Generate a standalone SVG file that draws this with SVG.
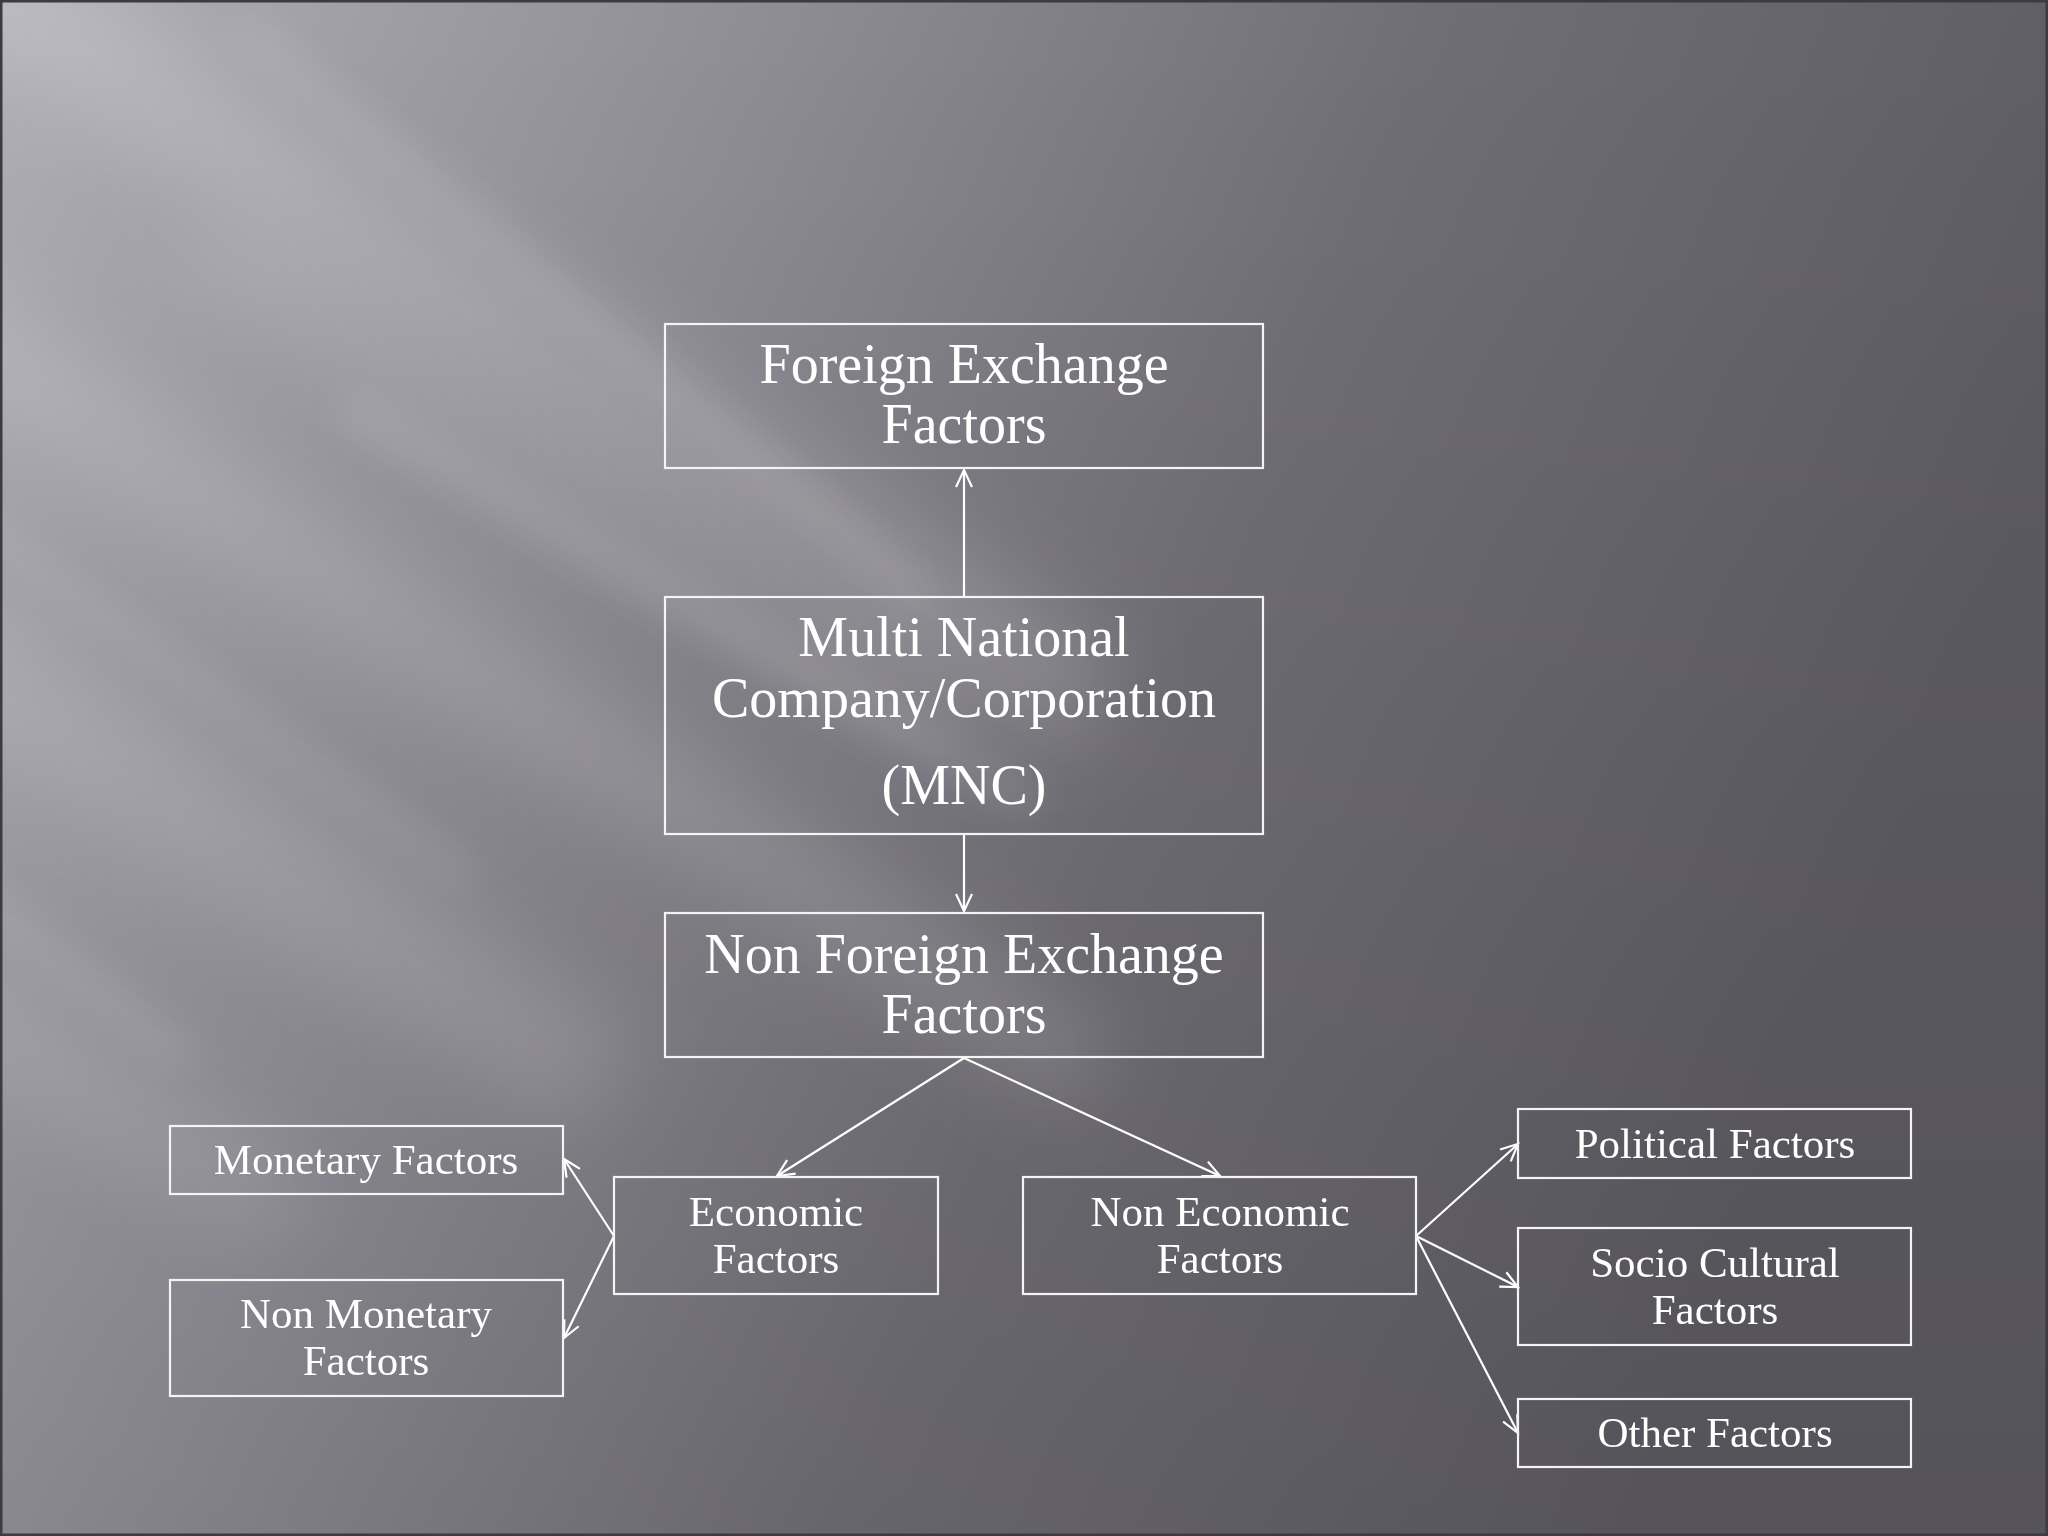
<svg xmlns="http://www.w3.org/2000/svg" width="2048" height="1536" viewBox="0 0 2048 1536">
<defs>
<linearGradient id="bg" x1="0" y1="0" x2="1" y2="0.3">
<stop offset="0" stop-color="#b0aeb7"/>
<stop offset="0.35" stop-color="#8e8c94"/>
<stop offset="0.65" stop-color="#706e75"/>
<stop offset="1" stop-color="#5d5b62"/>
</linearGradient>
<linearGradient id="vshade" x1="0" y1="0" x2="0" y2="1">
<stop offset="0" stop-color="#000" stop-opacity="0"/>
<stop offset="1" stop-color="#000" stop-opacity="0.08"/>
</linearGradient>
<filter id="blur" x="-50%" y="-50%" width="200%" height="200%">
<feGaussianBlur stdDeviation="40"/>
</filter>
<filter id="blur2" x="-50%" y="-50%" width="200%" height="200%">
<feGaussianBlur stdDeviation="18"/>
</filter>
<marker id="arr" markerWidth="26" markerHeight="26" refX="22" refY="13" orient="auto" markerUnits="userSpaceOnUse">
<path d="M5,5 L22,13 L5,21" fill="none" stroke="#ffffff" stroke-width="2.2"/>
</marker>
<style>
.box{fill:none;stroke:#f4f4f4;stroke-width:2.2}
.big{font-family:"Liberation Serif","Times New Roman",serif;font-size:56px;fill:#ffffff;text-anchor:middle}
.sm{font-family:"Liberation Serif","Times New Roman",serif;font-size:43px;fill:#ffffff;text-anchor:middle}
.con{stroke:#ffffff;stroke-width:2.2;fill:none;marker-end:url(#arr)}
</style>
</defs>
<g id="background">
<rect x="0" y="0" width="2048" height="1536" fill="url(#bg)"/>
<rect x="0" y="0" width="2048" height="1536" fill="url(#vshade)"/>
<g filter="url(#blur)" fill="#ffffff">
<rect x="-200" y="-60" width="1500" height="110" opacity="0.16" transform="rotate(33 0 0)"/>
<rect x="-200" y="260" width="1700" height="90" opacity="0.14" transform="rotate(33 0 0)"/>
<rect x="-300" y="520" width="1400" height="120" opacity="0.12" transform="rotate(33 0 0)"/>
<rect x="-300" y="820" width="1200" height="90" opacity="0.10" transform="rotate(33 0 0)"/>
<rect x="300" y="60" width="900" height="70" opacity="0.12" transform="rotate(33 0 0)"/>
</g>
<g filter="url(#blur2)" fill="#ffffff">
<rect x="500" y="160" width="800" height="40" opacity="0.10" transform="rotate(30 0 0)"/>
<rect x="100" y="700" width="700" height="40" opacity="0.08" transform="rotate(38 0 0)"/>
<rect x="0" y="420" width="900" height="30" opacity="0.08" transform="rotate(36 0 0)"/>
<rect x="200" y="-150" width="900" height="30" opacity="0.10" transform="rotate(40 0 0)"/>
</g>
<rect x="1" y="1" width="2046" height="1534" fill="none" stroke="#3c3b40" stroke-width="3"/>
</g>
<g id="connectors">
<line class="con" x1="964" y1="597" x2="964" y2="470"/>
<line class="con" x1="964" y1="835" x2="964" y2="911"/>
<line class="con" x1="964" y1="1058" x2="777" y2="1176"/>
<line class="con" x1="964" y1="1058" x2="1220" y2="1176"/>
<line class="con" x1="614" y1="1236" x2="564" y2="1159"/>
<line class="con" x1="614" y1="1236" x2="564" y2="1338"/>
<line class="con" x1="1416" y1="1236" x2="1518" y2="1144"/>
<line class="con" x1="1416" y1="1236" x2="1518" y2="1287"/>
<line class="con" x1="1416" y1="1236" x2="1518" y2="1433"/>
</g>
<g id="node-fx">
<rect class="box" x="665" y="324" width="598" height="144"/>
<text class="big" x="964" y="383">Foreign Exchange</text>
<text class="big" x="964" y="443">Factors</text>
</g>
<g id="node-mnc">
<rect class="box" x="665" y="597" width="598" height="237"/>
<text class="big" x="964" y="656">Multi National</text>
<text class="big" x="964" y="717">Company/Corporation</text>
<text class="big" x="964" y="804">(MNC)</text>
</g>
<g id="node-nfx">
<rect class="box" x="665" y="913" width="598" height="144"/>
<text class="big" x="964" y="973">Non Foreign Exchange</text>
<text class="big" x="964" y="1033">Factors</text>
</g>
<g id="node-monetary">
<rect class="box" x="170" y="1126" width="393" height="68"/>
<text class="sm" x="366" y="1174">Monetary Factors</text>
</g>
<g id="node-nonmonetary">
<rect class="box" x="170" y="1280" width="393" height="116"/>
<text class="sm" x="366" y="1328">Non Monetary</text>
<text class="sm" x="366" y="1375">Factors</text>
</g>
<g id="node-economic">
<rect class="box" x="614" y="1177" width="324" height="117"/>
<text class="sm" x="776" y="1226">Economic</text>
<text class="sm" x="776" y="1273">Factors</text>
</g>
<g id="node-noneconomic">
<rect class="box" x="1023" y="1177" width="393" height="117"/>
<text class="sm" x="1220" y="1226">Non Economic</text>
<text class="sm" x="1220" y="1273">Factors</text>
</g>
<g id="node-political">
<rect class="box" x="1518" y="1109" width="393" height="69"/>
<text class="sm" x="1715" y="1158">Political Factors</text>
</g>
<g id="node-socio">
<rect class="box" x="1518" y="1228" width="393" height="117"/>
<text class="sm" x="1715" y="1277">Socio Cultural</text>
<text class="sm" x="1715" y="1324">Factors</text>
</g>
<g id="node-other">
<rect class="box" x="1518" y="1399" width="393" height="68"/>
<text class="sm" x="1715" y="1447">Other Factors</text>
</g>
</svg>
